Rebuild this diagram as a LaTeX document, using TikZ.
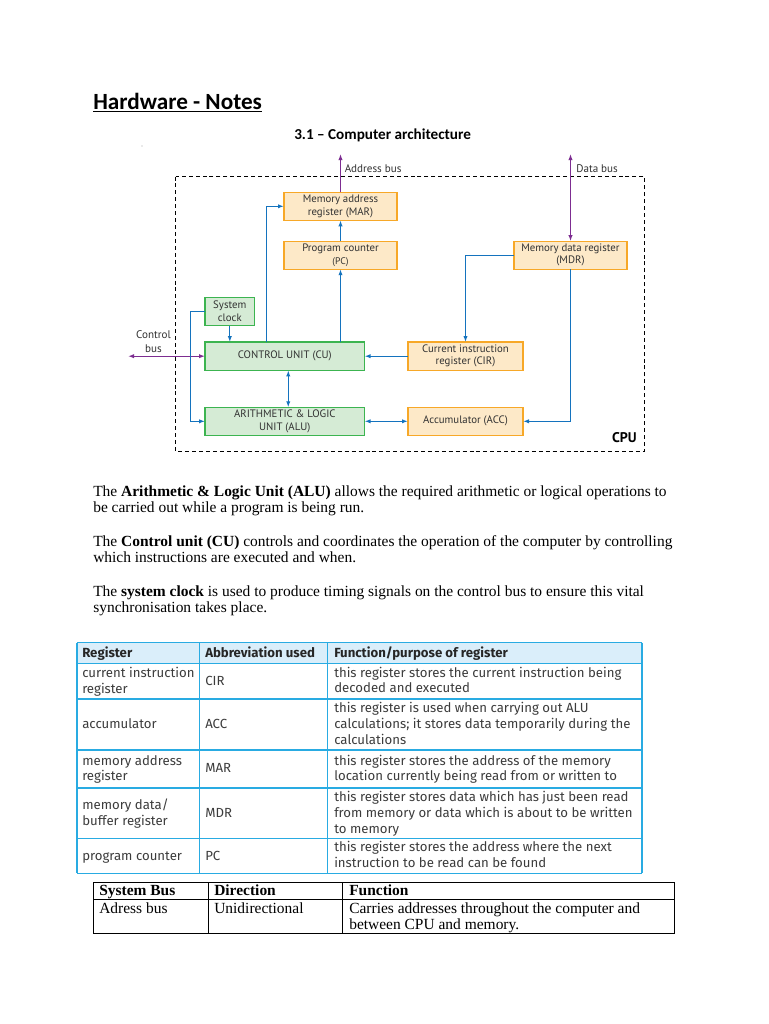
\documentclass[tikz,border=0pt]{standalone}
\usepackage{fontspec}
\setmainfont{Liberation Serif}
\newfontfamily\calfont{Carlito}
\newfontfamily\diafont{PT Sans}
\newfontfamily\tabfont{Fira Sans}
\usetikzlibrary{arrows.meta}
\definecolor{orB}{RGB}{247,168,40}
\definecolor{orF}{RGB}{253,233,200}
\definecolor{grB}{RGB}{60,180,80}
\definecolor{grF}{RGB}{213,235,213}
\definecolor{blueL}{RGB}{20,115,190}
\definecolor{purp}{RGB}{125,45,145}
\definecolor{dtext}{RGB}{50,50,50}
\definecolor{tblue}{RGB}{41,171,226}
\definecolor{thead}{RGB}{218,238,250}
\definecolor{ttext}{RGB}{60,60,60}
\begin{document}
\begin{tikzpicture}[x=0.75pt,y=-0.75pt,
  boxbase/.style={line width=0.9pt, inner sep=0pt, outer sep=0pt, align=center,
    font=\diafont\fontsize{8.1}{9.2}\selectfont, text=dtext},
  orbox/.style={boxbase, draw=orB, fill=orF},
  grbox/.style={boxbase, draw=grB, fill=grF},
  conn/.style={draw=blueL, line width=0.9pt, -{Latex[length=4.5pt,width=3.2pt]}},
  conntwo/.style={draw=blueL, line width=0.9pt, {Latex[length=4.5pt,width=3.2pt]}-{Latex[length=4.5pt,width=3.2pt]}},
  bus/.style={draw=purp, line width=0.9pt},
  buslab/.style={anchor=west, inner sep=0pt, font=\diafont\fontsize{8.3}{9.5}\selectfont, text=dtext},
  para/.style={anchor=base west, inner sep=0pt, font=\fontsize{11.6}{13}\selectfont},
  rtxt/.style={anchor=base west, inner sep=0pt, font=\tabfont\fontsize{9.9}{11}\selectfont, text=ttext},
  rhead/.style={anchor=base west, inner sep=0pt, font=\tabfont\bfseries\fontsize{9.9}{11}\selectfont, text=black!85},
  btxt/.style={anchor=base west, inner sep=0pt, font=\fontsize{11.6}{13}\selectfont},
  bhead/.style={anchor=base west, inner sep=0pt, font=\bfseries\fontsize{11.6}{13}\selectfont}
]
\fill[white] (0,0) rectangle (768,1024);
\useasboundingbox (0,0) rectangle (768,1024);

% Titles
\node[anchor=base west, inner sep=0pt, font=\calfont\bfseries\fontsize{17.4}{20}\selectfont] (title) at (93,109.5) {\underline{Hardware - Notes}};
\node[anchor=base west, inner sep=0pt, font=\calfont\bfseries\fontsize{11.4}{14}\selectfont] (sub) at (294,139.5) {3.1 – Computer architecture};
\fill[gray!70] (142,146) circle (0.5pt);

% CPU dashed frame
\draw[line width=0.75pt, dash pattern=on 3pt off 2.2pt] (175.5,176.5) rectangle (644.5,451);
\node[anchor=east, inner sep=0pt, font=\diafont\bfseries\fontsize{10.5}{12}\selectfont] (cpu) at (637,438) {CPU};

% Boxes
\node[orbox, minimum width=84.75pt, minimum height=21pt] (mar) at (340.5,206.3) {Memory address\\register (MAR)};
\node[orbox, minimum width=84.75pt, minimum height=21pt] (pc) at (340.5,255.2) {Program counter\\{\fontsize{7.2}{9}\selectfont(PC)}};
\node[orbox, minimum width=84.75pt, minimum height=21pt] (mdr) at (570.5,255.2) {Memory data register\\(MDR)};
\node[grbox, minimum width=37.1pt, minimum height=21.3pt] (clk) at (229.8,311.3) {System\\clock};
\node[grbox, minimum width=119.6pt, minimum height=21.2pt] (cu) at (284.8,356.2) {CONTROL UNIT (CU)};
\node[orbox, minimum width=86.25pt, minimum height=21.2pt] (cir) at (465.5,356.2) {Current instruction\\register (CIR)};
\node[grbox, minimum width=119.6pt, minimum height=21pt] (alu) at (284.8,421.3) {ARITHMETIC \& LOGIC\\UNIT (ALU)};
\node[orbox, minimum width=86.25pt, minimum height=21pt] (acc) at (465.5,421.3) {Accumulator (ACC)};

% Buses
\coordinate (abtop) at (340.5,154);
\coordinate (dbtop) at (570.5,154);
\coordinate (cbend) at (128,356.2);
\draw[bus, -{Latex[length=4.5pt,width=3.2pt]}] (mar.north) -- (abtop);
\draw[bus, {Latex[length=4.5pt,width=3.2pt]}-{Latex[length=4.5pt,width=3.2pt]}] (dbtop) -- (mdr.north);
\draw[bus, {Latex[length=4.5pt,width=3.2pt]}-{Latex[length=4.5pt,width=3.2pt]}] (cbend) -- (cu.west);
\node[buslab] (ablab) at (344.5,169) {Address bus};
\node[buslab] (dblab) at (576,169) {Data bus};
\node[inner sep=0pt, align=center, font=\diafont\fontsize{8.3}{10}\selectfont, text=dtext] (cblab) at (153.5,341.5) {Control\\bus};

% Connectors
\draw[conn] (pc.north) -- (mar.south);
\draw[conn] (cu.north -| pc.south) -- (pc.south);
\draw[conn] (cu.north west) ++(61.7,0) |- (mar.west);
\draw[conn] (mdr.west) -| (cir.north);
\draw[conn] (mdr.south) |- (acc.east);
\draw[conn] (cir.west) -- (cu.east);
\draw[conntwo] ([xshift=2.6pt]cu.south) -- ([xshift=2.6pt]alu.north);
\draw[conntwo] (alu.east) -- (acc.west);
\draw[conn] (clk.south) -- (clk.south |- cu.north);
\draw[conn] (clk.west) -- ++(-14.7,0) |- (alu.west);

% Paragraphs
\node[para] (p1) at (93,496.7) {The \textbf{Arithmetic \& Logic Unit (ALU)} allows the required arithmetic or logical operations to};
\node[para] (p2) at (93,512.7) {be carried out while a program is being run.};
\node[para] (p3) at (93,546) {The \textbf{Control unit (CU)} controls and coordinates the operation of the computer by controlling};
\node[para] (p4) at (93,562) {which instructions are executed and when.};
\node[para] (p5) at (93,596) {The \textbf{system clock} is used to produce timing signals on the control bus to ensure this vital};
\node[para] (p6) at (93,612.5) {synchronisation takes place.};

% Register table
\fill[thead] (77,642.5) rectangle (642,663.3);
\foreach \yy in {642.5,663.3,699.2,750,788.2,838.5,873.3}
  \draw[tblue, line width=1.1pt] (77,\yy) -- (642,\yy);
\foreach \xx in {77,199.5,327.5,642}
  \draw[tblue, line width=1.1pt] (\xx,642.5) -- (\xx,873.3);

\node[rhead] (h1) at (82,657) {Register};
\node[rhead] (h2) at (205,657) {Abbreviation used};
\node[rhead] (h3) at (334,657) {Function/purpose of register};

\node[rtxt] (a1) at (82,677.5) {current instruction};
\node[rtxt] (a2) at (82,693) {register};
\node[rtxt] (b1) at (205,685.5) {CIR};
\node[rtxt] (c1) at (334,677.5) {this register stores the current instruction being};
\node[rtxt] (c2) at (334,692.5) {decoded and executed};

\node[rtxt] (a3) at (82,728.5) {accumulator};
\node[rtxt] (b2) at (205,728.5) {ACC};
\node[rtxt] (c3) at (334,712.5) {this register is used when carrying out ALU};
\node[rtxt] (c4) at (334,728.5) {calculations; it stores data temporarily during the};
\node[rtxt] (c5) at (334,744) {calculations};

\node[rtxt] (a4) at (82,765) {memory address};
\node[rtxt] (a5) at (82,780.5) {register};
\node[rtxt] (b3) at (205,772.5) {MAR};
\node[rtxt] (c6) at (334,765) {this register stores the address of the memory};
\node[rtxt] (c7) at (334,780.5) {location currently being read from or written to};

\node[rtxt] (a6) at (82,809.5) {memory data/};
\node[rtxt] (a7) at (82,825) {buffer register};
\node[rtxt] (b4) at (205,817.5) {MDR};
\node[rtxt] (c8) at (334,801.5) {this register stores data which has just been read};
\node[rtxt] (c9) at (334,817) {from memory or data which is about to be written};
\node[rtxt] (c10) at (334,833) {to memory};

\node[rtxt] (a8) at (82,860) {program counter};
\node[rtxt] (b5) at (205,860) {PC};
\node[rtxt] (c11) at (334,851.5) {this register stores the address where the next};
\node[rtxt] (c12) at (334,867) {instruction to be read can be found};

% Bus table
\foreach \yy in {882.5,899.3,933.5}
  \draw[black, line width=0.75pt] (93.3,\yy) -- (674.5,\yy);
\foreach \xx in {93.3,208.3,342.7,674.5}
  \draw[black, line width=0.75pt] (\xx,882.5) -- (\xx,933.5);
\node[bhead] (s1) at (99,895) {System Bus};
\node[bhead] (s2) at (214,895) {Direction};
\node[bhead] (s3) at (349,895) {Function};
\node[btxt] (r1) at (99,913) {Adress bus};
\node[btxt] (r2) at (214,913) {Unidirectional};
\node[btxt] (r3) at (349,913) {Carries addresses throughout the computer and};
\node[btxt] (r4) at (349,929.5) {between CPU and memory.};
\end{tikzpicture}
\end{document}
